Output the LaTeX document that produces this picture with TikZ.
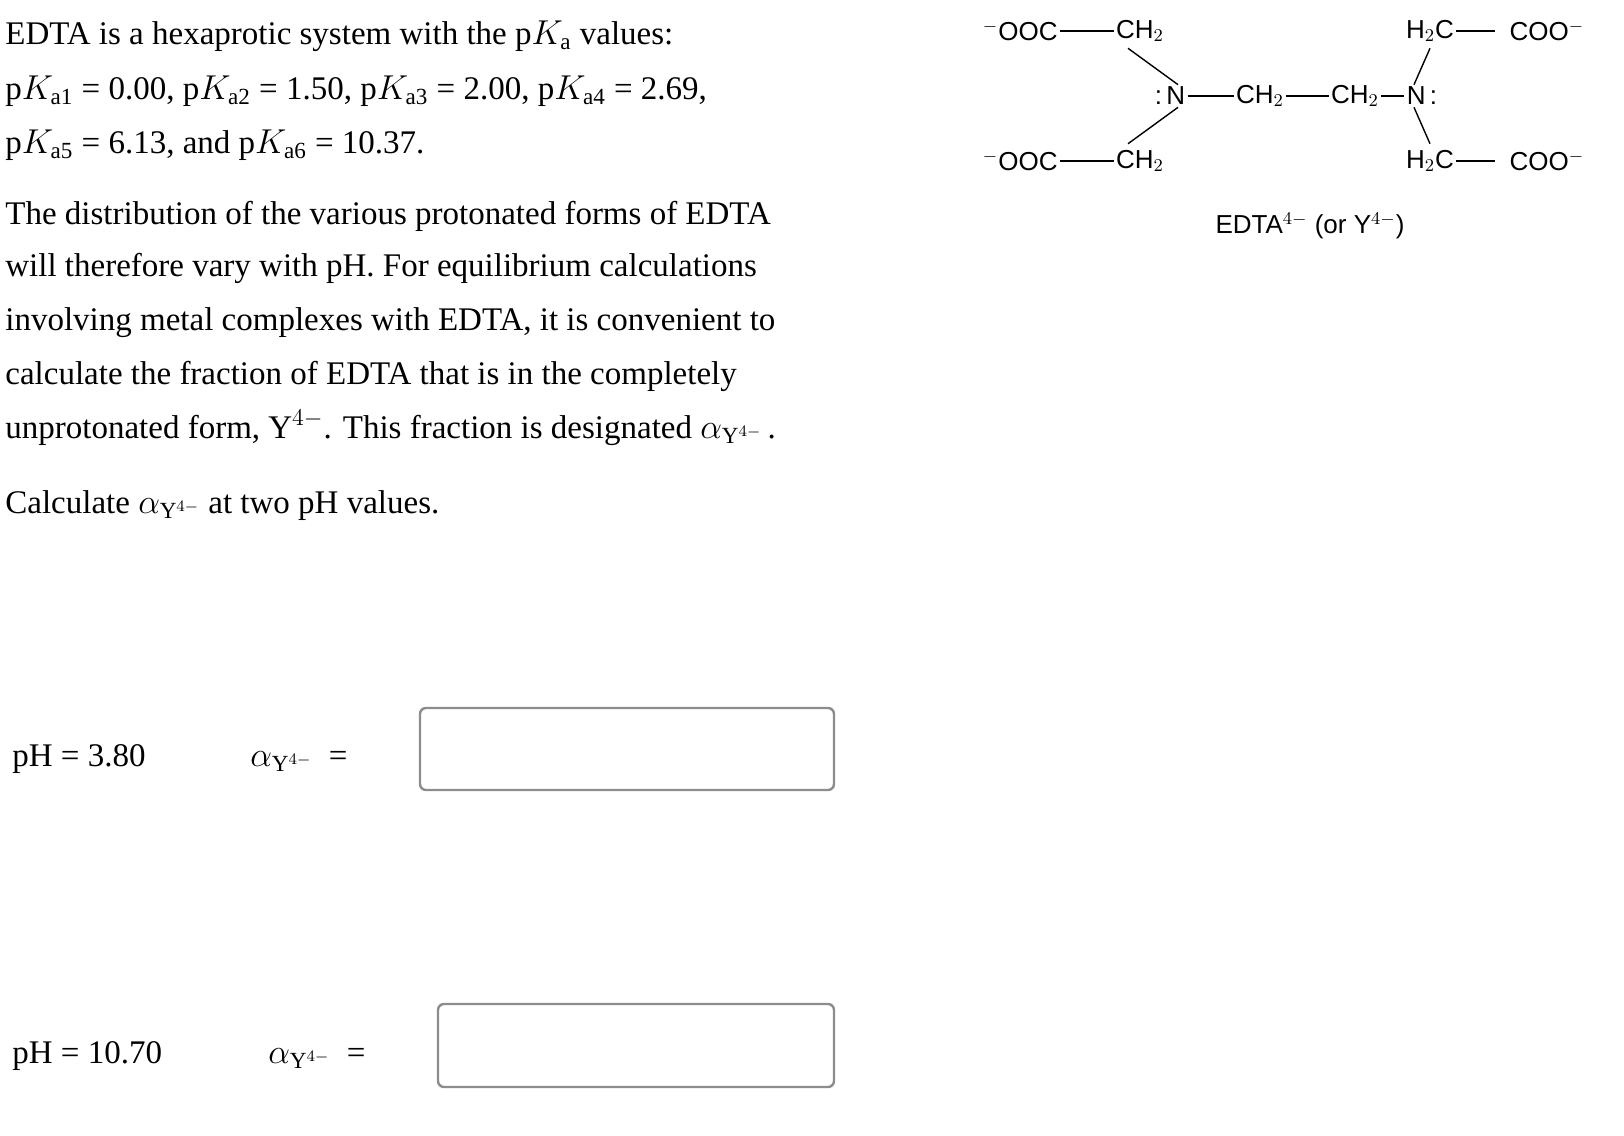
\documentclass[tikz,border=0pt]{standalone}
\usepackage{fontspec}
\setmainfont{Liberation Serif}
\newfontfamily\molfont{Liberation Sans}
\begin{document}
\begin{tikzpicture}[x=0.5pt,y=-0.5pt,
  body/.style={anchor=base west,inner sep=0pt,font=\fontsize{16.5}{20}\selectfont},
  mol/.style={inner sep=1pt,font=\molfont\fontsize{13}{15}\selectfont},
  bond/.style={line width=0.7pt},
  ansbox/.style={draw=black!45,line width=1.2pt,rounded corners=3pt}]
\useasboundingbox (0,0) rectangle (1624,1136);
\node[body] (l1) at (5,44) {EDTA is a hexaprotic system with the p$K_{\mathrm{a}}$ values:};
\node[body] (l2) at (5,99) {p$K_{\mathrm{a1}}$ = 0.00, p$K_{\mathrm{a2}}$ = 1.50, p$K_{\mathrm{a3}}$ = 2.00, p$K_{\mathrm{a4}}$ = 2.69,};
\node[body] (l3) at (5,153) {p$K_{\mathrm{a5}}$ = 6.13, and p$K_{\mathrm{a6}}$ = 10.37.};
\node[body] (p1) at (5,224) {The distribution of the various protonated forms of EDTA};
\node[body] (p2) at (5,276) {will therefore vary with pH. For equilibrium calculations};
\node[body] (p3) at (5,330) {involving metal complexes with EDTA, it is convenient to};
\node[body] (p4) at (5,384) {calculate the fraction of EDTA that is in the completely};
\node[body] (p5) at (5,438) {unprotonated form, Y$^{4-}$. This fraction is designated $\alpha_{\mathrm{Y}^{4-}}$\,.};
\node[body] (c1) at (5,513) {Calculate $\alpha_{\mathrm{Y}^{4-}}$ at two pH values.};
\node[body] (ph1) at (12,766) {pH = 3.80};
\node[body] (a1) at (250,766) {$\alpha_{\mathrm{Y}^{4-}}$\ \ =};
\draw[ansbox] (420,708) rectangle (834,790);
\node[body] (ph2) at (12,1063) {pH = 10.70};
\node[body] (a2) at (268,1063) {$\alpha_{\mathrm{Y}^{4-}}$\ \ =};
\draw[ansbox] (438,1004) rectangle (834,1087);
% molecule
\node[mol,anchor=east] (ooc1) at (1060,31) {$^{-}$OOC};
\node[mol] (ch2a) at (1140,31) {CH$_2$};
\node[mol,anchor=east] (ooc2) at (1060,161) {$^{-}$OOC};
\node[mol] (ch2b) at (1140,161) {CH$_2$};
\node[mol] (n1) at (1170,96) {:\,N};
\node[mol] (ch2c) at (1260,96) {CH$_2$};
\node[mol] (ch2d) at (1355,96) {CH$_2$};
\node[mol] (n2) at (1422,96) {N\,:};
\node[mol] (h2ca) at (1430,31) {H$_2$C};
\node[mol] (cooa) at (1547,31) {COO$^{-}$};
\node[mol] (h2cb) at (1430,161) {H$_2$C};
\node[mol] (coob) at (1547,161) {COO$^{-}$};
\node[mol] (lab) at (1310,226) {EDTA$^{4-}$ (or Y$^{4-}$)};
\draw[bond] (ooc1) -- (ch2a);
\draw[bond] (ooc2) -- (ch2b);
\draw[bond] (ch2a.south) ++(-12,4) -- ([xshift=4pt]n1.north);
\draw[bond] (ch2b.north) ++(-12,-4) -- ([xshift=4pt]n1.south);
\draw[bond] (n1) -- (ch2c);
\draw[bond] (ch2c) -- (ch2d);
\draw[bond] (ch2d) -- (n2);
\draw[bond] (h2ca.south) ++(0,4) -- ([xshift=-4pt]n2.north);
\draw[bond] (h2cb.north) ++(0,-4) -- ([xshift=-4pt]n2.south);
\draw[bond] (h2ca) -- ([xshift=-6pt]cooa.west);
\draw[bond] (h2cb) -- ([xshift=-6pt]coob.west);
\end{tikzpicture}
\end{document}
